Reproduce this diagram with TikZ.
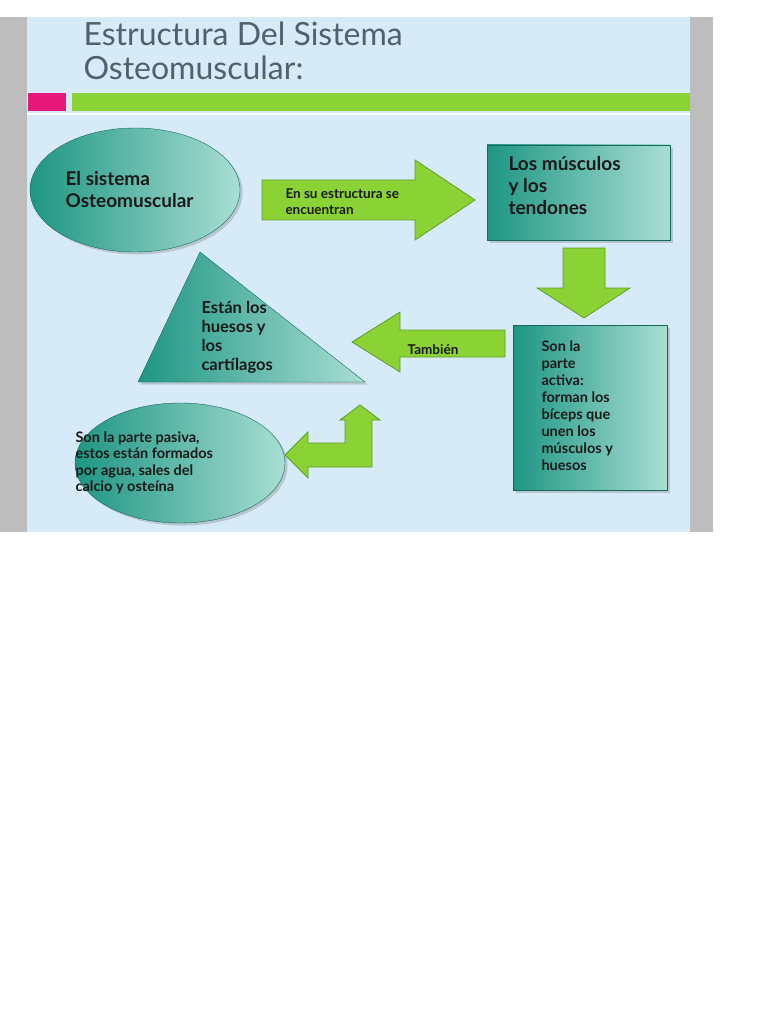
\documentclass[tikz,border=0pt]{standalone}
\usepackage{fontspec}
\setmainfont{Lato}
\usetikzlibrary{shadows,positioning}
\definecolor{FondoGris}{HTML}{BDBDBD}
\definecolor{FondoAzul}{HTML}{D6EAF8}
\definecolor{VerdeFlecha}{HTML}{8BD234}
\definecolor{VerdeBorde}{HTML}{5E9E2A}
\definecolor{RosaBarra}{HTML}{E8177A}
\definecolor{TituloGris}{HTML}{4F6070}
\definecolor{TealOscuro}{HTML}{1E9683}
\definecolor{TealClaro}{HTML}{A9DED3}
\begin{document}
\begin{tikzpicture}[x=1pt,y=-1pt,
	every node/.style={text=black!90, align=left, font=\bfseries\fontsize{15}{17}\selectfont},
	caja/.style={draw=TealOscuro!70!black, left color=TealOscuro, right color=TealClaro,
		drop shadow={opacity=0.35}},
	flecha/.style={fill=VerdeFlecha, draw=VerdeBorde, line width=0.8pt}]
	\useasboundingbox (0,0) rectangle (768,1024);
	\fill[white] (0,0) rectangle (768,1024);
	\fill[FondoGris] (0,17) rectangle (713,532);
	\fill[FondoAzul] (27,17) rectangle (690,532);
	% titulo
	\node[anchor=north west, text=TituloGris, font=\fontsize{32}{34}\selectfont] (titulo) at (80,18)
		{Estructura Del Sistema\\Osteomuscular:};
	\fill[RosaBarra] (28,93) rectangle (66,111);
	\fill[VerdeFlecha] (72,93) rectangle (690,111);
	\draw[white, line width=1.5pt] (27,114) -- (690,114);
	% formas
	\draw[caja] (135,190) ellipse [x radius=105, y radius=62];
	\node[anchor=west, font=\bfseries\fontsize{19}{22}\selectfont] (sistema) at (62,190) {El sistema\\Osteomuscular};
	\draw[caja] (487,145) rectangle (670,240);
	\node[anchor=north west, font=\bfseries\fontsize{19}{22}\selectfont] (musculos) at (505,153) {Los músculos\\y los\\tendones};
	\draw[caja] (513,325) rectangle (667,490);
	\node[anchor=north west, font=\bfseries\fontsize{14.5}{17}\selectfont] (activa) at (538,337)
		{Son la\\parte\\activa:\\forman los\\bíceps que\\unen los\\músculos y\\huesos};
	\draw[caja] (200,252) -- (365,382) -- (138,382) -- cycle;
	\node[anchor=north west, font=\bfseries\fontsize{16.5}{19}\selectfont] (huesos) at (198,298) {Están los\\huesos y\\los\\cartílagos};
	\draw[caja] (180,463) ellipse [x radius=105, y radius=60];
	\node[anchor=north west, font=\bfseries\fontsize{14.5}{16.5}\selectfont] (pasiva) at (72,428)
		{Son la parte pasiva,\\estos están formados\\por agua, sales del\\calcio y osteína};
	% flechas
	\draw[flecha] (262,180) -- (415,180) -- (415,160) -- (475,200) -- (415,240) -- (415,220) -- (262,220) -- cycle;
	\node[anchor=west, font=\bfseries\fontsize{13.5}{16}\selectfont] (estructura) at (282,202) {En su estructura se\\encuentran};
	\draw[flecha] (563,248) -- (605,248) -- (605,288) -- (630,288) -- (584,318) -- (537,288) -- (563,288) -- cycle;
	\draw[flecha] (505,330) -- (400,330) -- (400,312) -- (352,342) -- (400,372) -- (400,357) -- (505,357) -- cycle;
	\node[font=\bfseries\fontsize{13.5}{16}\selectfont] (tambien) at (433,350) {También};
	\draw[flecha] (285,455) -- (308,432) -- (308,443) -- (345,443) -- (345,420) -- (340,420) -- (360,405)
		-- (380,420) -- (372,420) -- (372,467) -- (308,467) -- (308,478) -- cycle;
\end{tikzpicture}
\end{document}
